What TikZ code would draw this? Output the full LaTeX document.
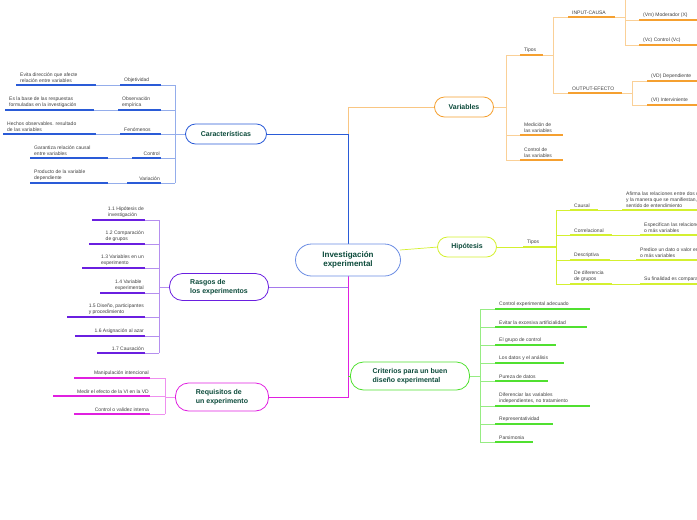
\documentclass[tikz,border=0pt]{standalone}
\usepackage{fontspec}
\setmainfont{Liberation Sans}
\definecolor{cblue}{HTML}{2A5BD7}
\definecolor{cpur}{HTML}{6A1FE0}
\definecolor{cmag}{HTML}{E020E0}
\definecolor{corg}{HTML}{F5A030}
\definecolor{cyel}{HTML}{D4F030}
\definecolor{cgrn}{HTML}{50E030}
\definecolor{ctxt}{HTML}{0B4A3A}
\tikzset{
 main/.style={rectangle,rounded corners=10pt,draw=#1,line width=0.8pt,fill=white,font=\fontsize{7}{8.5}\selectfont\bfseries,text=ctxt,align=left,inner xsep=0pt,inner ysep=2pt},
 lf/.style={font=\fontsize{5}{6}\selectfont,text=black!75,align=left,inner sep=1pt},
}
\newcommand{\lfx}[7]{%
 \draw[#7,line width=1.2pt] (#2,#4) -- (#3,#4);
 \coordinate (#1L) at (#2,#4); \coordinate (#1R) at (#3,#4);
 \ifx#5w\node[lf,anchor=south west] (#1) at (#2+3,#4-1) {#6};\else\node[lf,anchor=south east] (#1) at (#3,#4-1) {#6};\fi}
\begin{document}
\begin{tikzpicture}[x=1pt,y=-1pt]
\useasboundingbox (0,0) rectangle (697,520);
\clip (0,0) rectangle (697,520);
\draw[corg!60,line width=0.7pt] (348,244) -- (348,107) -- (435,107);
\draw[cblue,line width=0.7pt] (348,244) -- (348,134) -- (267,134);
\draw[cpur!60,line width=0.7pt] (348,276) -- (348,287) -- (269,287);
\draw[cmag,line width=0.7pt] (348,276) -- (348,397) -- (269,397);
\draw[cgrn,line width=0.7pt] (348,376) -- (351,376);
\draw[cyel,line width=0.7pt] (400,250) -- (438,247);
\node[main=cblue!70,font=\fontsize{8}{9.5}\selectfont\bfseries,align=center,minimum width=105pt,minimum height=32pt,rounded corners=16pt] (c) at (348,260) {Investigación\\experimental};
\node[main=cblue,minimum width=81pt,minimum height=20pt] (car) at (226,134) {Características};
\node[main=cpur,minimum width=99pt,minimum height=27pt,rounded corners=13pt] (ras) at (219,287) {Rasgos de\\los experimentos};
\node[main=cmag,minimum width=93pt,minimum height=28pt,rounded corners=13pt] (req) at (222,397) {Requisitos de\\un experimento};
\node[main=corg,minimum width=59pt,minimum height=20pt] (var) at (464,107) {Variables};
\node[main=cyel,minimum width=59pt,minimum height=20pt] (hip) at (467,247) {Hipótesis};
\node[main=cgrn,minimum width=119pt,minimum height=28pt,rounded corners=13pt] (cri) at (410,376) {Criterios para un buen\\diseño experimental};
% Caracteristicas
\draw[cblue!50,line width=0.7pt] (car.west) -- (175,134) (175,85) -- (175,183);
\lfx{o1}{120}{161}{85}{w}{Objetividad}{cblue}
\lfx{o2}{118}{161}{110}{w}{Observación\\empírica}{cblue}
\lfx{o3}{120}{161}{134}{w}{Fenómenos}{cblue}
\lfx{o4}{132}{161}{158}{e}{Control}{cblue}
\lfx{o5}{127}{161}{183}{e}{Variación}{cblue}
\foreach \i in {1,...,5}{\draw[cblue!50,line width=0.7pt] (o\i R) -- (175,0 |- o\i R);}
\lfx{p1}{16}{96}{85}{w}{Evita dirección que afecte\\relación entre variables}{cblue}
\lfx{p2}{5}{94}{110}{w}{Es la base de las respuestas\\formuladas en la investigación}{cblue}
\lfx{p3}{3}{96}{134}{w}{Hechos observables. resultado\\de las variables}{cblue}
\lfx{p4}{30}{108}{158}{w}{Garantiza relación causal\\entre variables}{cblue}
\lfx{p5}{30}{108}{183}{w}{Producto de la variable\\dependiente}{cblue}
\foreach \i in {1,...,5}{\draw[cblue!50,line width=0.7pt] (p\i R) -- (o\i L);}
% Rasgos
\draw[cpur!50,line width=0.7pt] (ras.west) -- (159,287) (159,220) -- (159,353);
\lfx{r1}{92}{145}{220}{e}{1.1 Hipótesis de\\investigación}{cpur}
\lfx{r2}{89}{145}{244}{e}{1.2 Comparación\\de grupos}{cpur}
\lfx{r3}{82}{145}{268}{e}{1.3 Variables en un\\experimento}{cpur}
\lfx{r4}{100}{145}{293}{e}{1.4 Variable\\experimental}{cpur}
\lfx{r5}{67}{145}{317}{e}{1.5 Diseño, participantes\\y procedimiento}{cpur}
\lfx{r6}{75}{145}{336}{e}{1.6 Asignación al azar}{cpur}
\lfx{r7}{97}{145}{353}{e}{1.7 Causación}{cpur}
\foreach \i in {1,...,7}{\draw[cpur!50,line width=0.7pt] (r\i R) -- (159,0 |- r\i R);}
% Requisitos
\draw[cmag!50,line width=0.7pt] (req.west) -- (165,397) (165,378) -- (165,414);
\lfx{q1}{74}{150}{378}{e}{Manipulación intencional}{cmag}
\lfx{q2}{53}{150}{396}{e}{Medir el efecto de la VI en la VD}{cmag}
\lfx{q3}{74}{150}{414}{e}{Control o validez interna}{cmag}
\foreach \i in {1,...,3}{\draw[cmag!50,line width=0.7pt] (q\i R) -- (165,0 |- q\i R);}
% Variables
\draw[corg!50,line width=0.7pt] (var.east) -- (506,107) (506,55) -- (506,160);
\lfx{v1}{520}{543}{55}{w}{Tipos}{corg}
\lfx{v2}{520}{563}{135}{w}{Medición de\\las variables}{corg}
\lfx{v3}{520}{563}{160}{w}{Control de\\las variables}{corg}
\foreach \i in {1,...,3}{\draw[corg!50,line width=0.7pt] (v\i L) -- (506,0 |- v\i L);}
\draw[corg!50,line width=0.7pt] (v1R) -- (553,55) (553,17) -- (553,93);
\lfx{w1}{568}{615}{17}{w}{INPUT-CAUSA}{corg}
\lfx{w2}{568}{622}{93}{w}{OUTPUT-EFECTO}{corg}
\draw[corg!50,line width=0.7pt] (w1L) -- (553,17) (w2L) -- (553,93);
\draw[corg!50,line width=0.7pt] (w1R) -- (625,17) (625,0) -- (625,45);
\lfx{x1}{639}{720}{20}{w}{(Vm) Moderador (X)}{corg}
\lfx{x2}{639}{720}{45}{w}{(Vc) Control (Vc)}{corg}
\draw[corg!50,line width=0.7pt] (x1L) -- (625,20) (x2L) -- (625,45);
\draw[corg!50,line width=0.7pt] (w2R) -- (632,93) (632,81) -- (632,105);
\lfx{y1}{647}{720}{81}{w}{(VD) Dependiente}{corg}
\lfx{y2}{647}{720}{105}{w}{(VI) Interviniente}{corg}
\draw[corg!50,line width=0.7pt] (y1L) -- (632,81) (y2L) -- (632,105);
% Hipotesis
\lfx{h0}{523}{556}{247}{w}{Tipos}{cyel}
\draw[cyel,line width=0.7pt] (hip.east) -- (h0L) (556,210) -- (556,284);
\lfx{h1}{570}{598}{210}{w}{Causal}{cyel}
\lfx{h2}{570}{612}{235}{w}{Correlacional}{cyel}
\lfx{h3}{570}{610}{260}{w}{Descriptiva}{cyel}
\lfx{h4}{570}{612}{284}{w}{De diferencia\\de grupos}{cyel}
\lfx{k1}{622}{720}{210}{w}{Afirma las relaciones entre dos o más variables\\y la manera que se manifiestan, con un\\sentido de entendimiento}{cyel}
\lfx{k2}{640}{720}{235}{w}{Especifican las relaciones entre dos\\o más variables}{cyel}
\lfx{k3}{636}{720}{260}{w}{Predice un dato o valor en una\\o más variables}{cyel}
\lfx{k4}{640}{720}{284}{w}{Su finalidad es comparar grupos}{cyel}
\foreach \i in {1,...,4}{\draw[cyel,line width=0.7pt] (h\i L) -- (556,0 |- h\i L); \draw[cyel,line width=0.7pt] (h\i R) -- (k\i L);}
% Criterios
\draw[cgrn!60,line width=0.7pt] (cri.east) -- (480,376) (480,309) -- (480,442);
\lfx{g1}{495}{590}{309}{w}{Control experimental adecuado}{cgrn}
\lfx{g2}{495}{587}{327}{w}{Evitar la excesiva artificialidad}{cgrn}
\lfx{g3}{495}{556}{345}{w}{El grupo de control}{cgrn}
\lfx{g4}{495}{564}{363}{w}{Los datos y el análisis}{cgrn}
\lfx{g5}{495}{548}{381}{w}{Pureza de datos}{cgrn}
\lfx{g6}{495}{590}{406}{w}{Diferenciar las variables\\independientes, no tratamiento}{cgrn}
\lfx{g7}{495}{553}{424}{w}{Representatividad}{cgrn}
\lfx{g8}{495}{533}{442}{w}{Parsimonia}{cgrn}
\foreach \i in {1,...,8}{\draw[cgrn!60,line width=0.7pt] (g\i L) -- (480,0 |- g\i L);}
\end{tikzpicture}
\end{document}
